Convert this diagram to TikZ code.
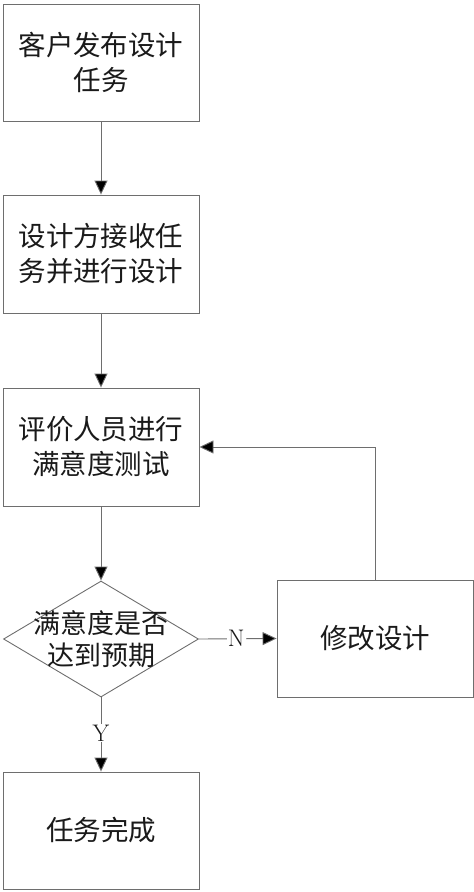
\documentclass[tikz,border=0pt]{standalone}
\usepackage{fontspec}
\newfontfamily\cjk{Noto Sans CJK SC}
\usetikzlibrary{shapes.geometric,arrows.meta}
\definecolor{linegray}{HTML}{6E6E6E}
\definecolor{txt}{HTML}{1A1A1A}
\tikzset{
  x=1pt,y=1pt,
  procbox/.style={draw=linegray,line width=0.9pt,minimum width=196pt,minimum height=117pt,inner sep=0pt,
    font=\cjk\fontsize{27.5}{35}\selectfont,text=txt,align=center},
  decbox/.style={draw=linegray,line width=0.9pt,diamond,minimum width=195pt,minimum height=116pt,inner sep=0pt},
  dectext/.style={font=\cjk\fontsize{27}{32}\selectfont,text=txt,align=center,inner sep=0pt},
  conn/.style={draw=linegray,line width=0.9pt,-{Triangle[length=14pt,width=13pt,fill=black]}},
  lab/.style={fill=white,font=\fontsize{24}{26}\selectfont,text=txt,inner sep=1pt}
}
\begin{document}
\begin{tikzpicture}
\useasboundingbox (0,0) rectangle (474,-892);
\node[procbox] (a) at (101,-62.5) {客户发布设计\\任务};
\node[procbox,minimum height=118pt] (b) at (101,-254) {设计方接收任\\务并进行设计};
\node[procbox,minimum height=118pt] (c) at (101,-447) {评价人员进行\\满意度测试};
\node[decbox] (d) at (101,-639) {};
\node[dectext] (dt) at (101,-639) {满意度是否\\达到预期};
\node[procbox] (e) at (375,-638.5) {修改设计};
\node[procbox] (f) at (101,-830.5) {任务完成};
\draw[conn] (a) -- (b);
\draw[conn] (b) -- (c);
\draw[conn] (c) -- (d);
\draw[conn] (d.east) -- node[lab,pos=0.48] {N} (e.west);
\draw[conn] (d.south) -- node[lab,pos=0.48] {Y} (f.north);
\draw[conn] (e.north) |- (c.east);
\end{tikzpicture}
\end{document}
